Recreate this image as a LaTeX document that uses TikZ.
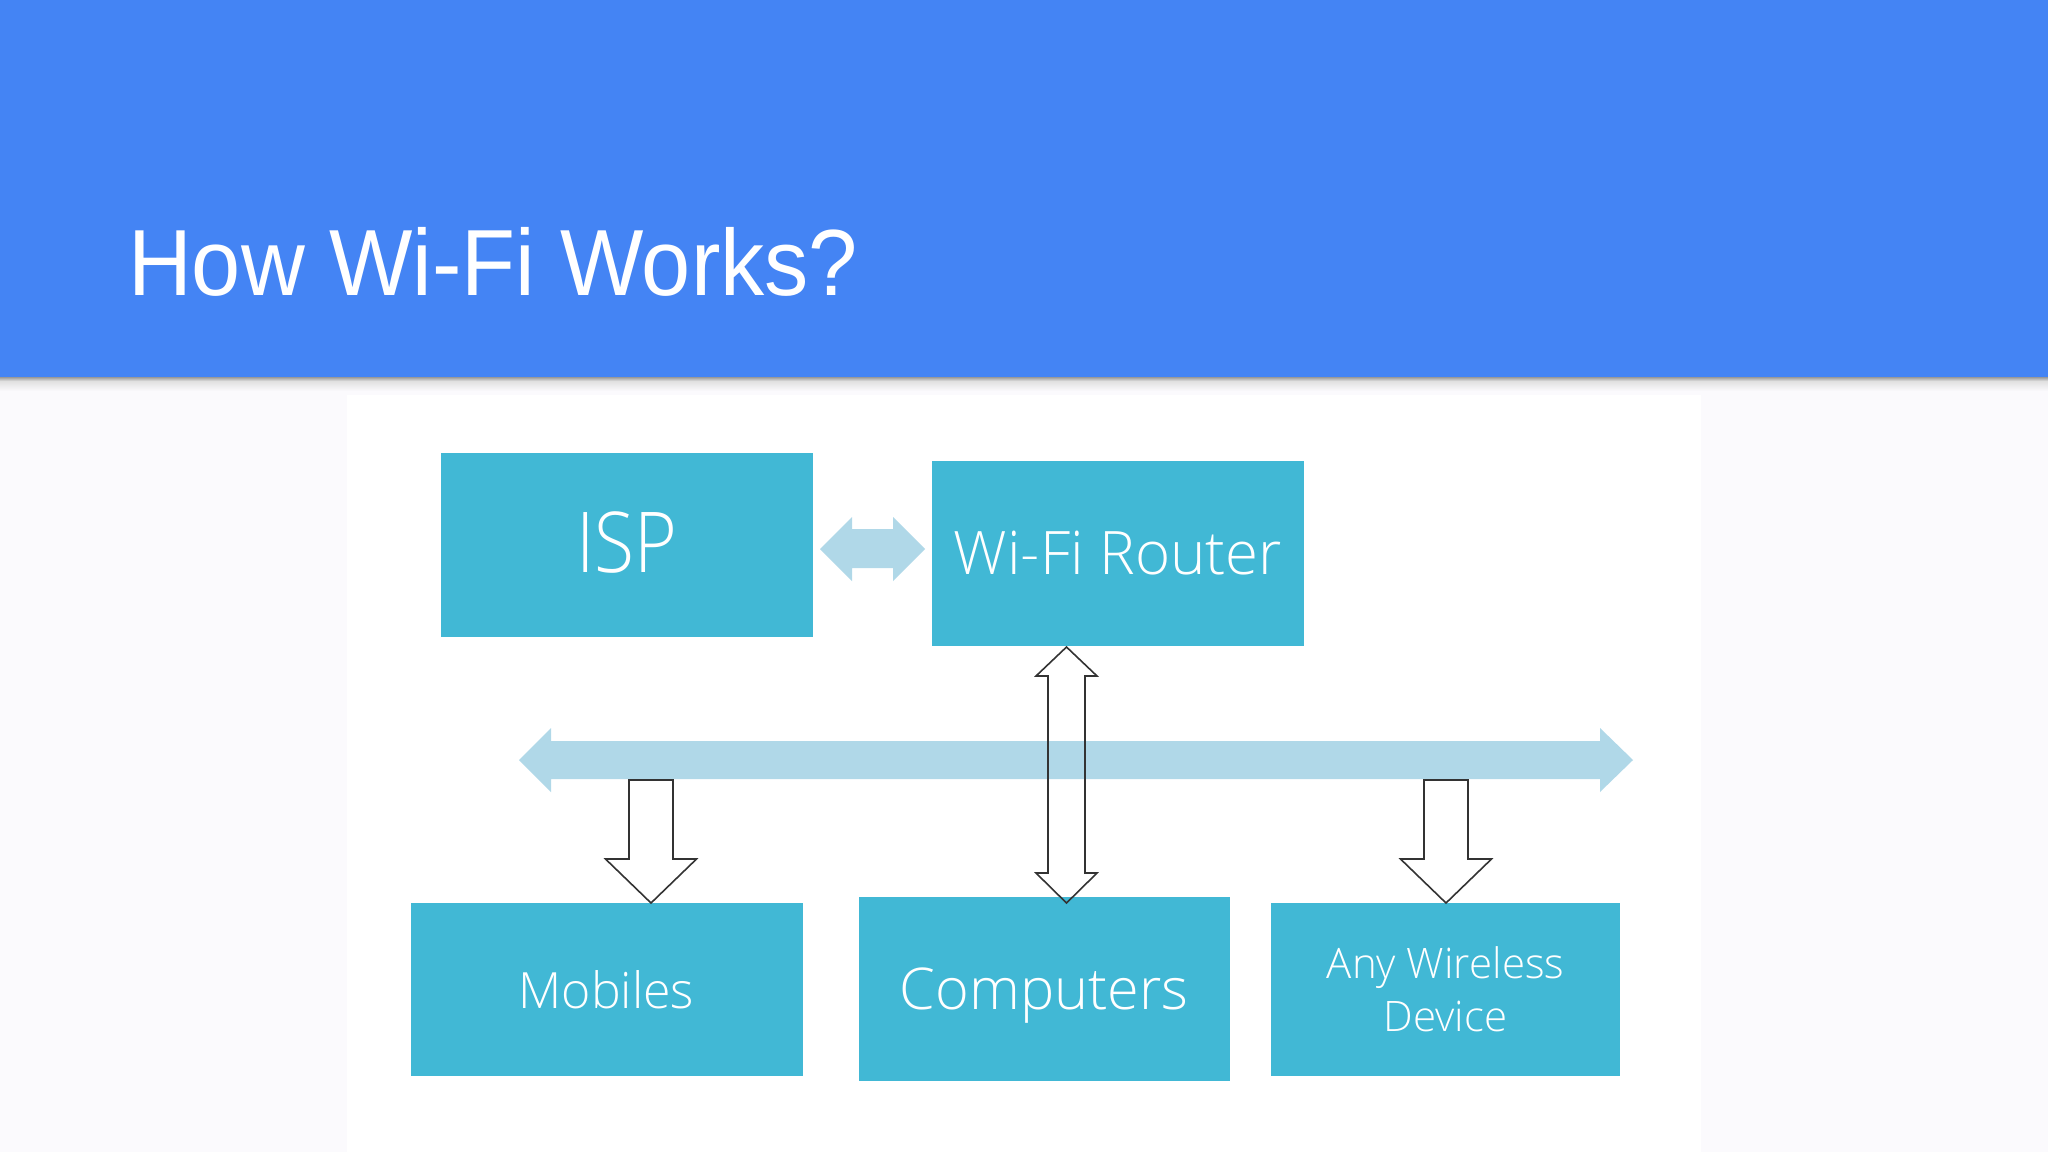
\documentclass[tikz,border=0pt]{standalone}
\usepackage{fontspec}
\setmainfont{Liberation Sans}
\newfontfamily\titlefont[FakeStretch=0.94]{Liberation Sans}
\newfontfamily\boxfont{Open Sans Light}
\newfontfamily\ispfont[FakeStretch=0.87]{Open Sans Light}
\definecolor{bannerblue}{HTML}{4484F4}
\definecolor{pagetint}{HTML}{FBFAFD}
\definecolor{boxteal}{HTML}{41B8D5}
\definecolor{palearrow}{HTML}{B0D8E8}
\definecolor{outline}{HTML}{333333}
\tikzset{
	tealbox/.style={fill=boxteal, text=white, inner sep=0pt, align=center, font=\boxfont},
	openarrow/.style={draw=outline, line width=1.6pt, line join=miter},
}
\begin{document}
\begin{tikzpicture}[x=1pt, y=-1pt]
	\useasboundingbox (0,0) rectangle (2048,1152);
	\fill [pagetint] (0,0) rectangle (2048,1152);
	\fill [white] (347,395) rectangle (1701,1152);
	\shade [top color=black!40, bottom color=black!12] (0,377) rectangle (2048,381);
	\shade [top color=black!12, bottom color=pagetint] (0,381) rectangle (2048,391);
	\fill [bannerblue] (0,0) rectangle (2048,377);
	\node (title) [anchor=base west, inner sep=0pt, text=white, font=\titlefont\fontsize{94}{94}\selectfont] at (128,295) {How Wi-Fi Works?};

	\node (isp) [tealbox, minimum width=372pt, minimum height=184pt, text depth=5pt, font=\ispfont\fontsize{84}{84}\selectfont] at (627,545) {ISP};
	\node (router) [tealbox, minimum width=372pt, minimum height=185pt, font=\boxfont\fontsize{60}{60}\selectfont] at (1118,553) {Wi-Fi Router};
	\node (mobiles) [tealbox, minimum width=392pt, minimum height=173pt, font=\boxfont\fontsize{50}{50}\selectfont] at (606.5,989.5) {Mobiles};
	\node (computers) [tealbox, minimum width=371pt, minimum height=184pt, text depth=0pt, font=\boxfont\fontsize{57.6}{60}\selectfont] at (1044,989) {Computers};
	\node (wireless) [tealbox, minimum width=349pt, minimum height=173pt, font=\boxfont\fontsize{42}{53}\selectfont] at (1445.5,989.5) {Any Wireless\\Device};

	% pale arrows
	\coordinate (A) at (820,549);
	\coordinate (B) at (925,549);
	\fill [palearrow] (A) -- ++(32,-32) -- ++(0,12) -- ++(41,0) -- ++(0,-12) -- (B) -- ++(-32,32) -- ++(0,-13) -- ++(-41,0) -- ++(0,13) -- cycle;

	\coordinate (C) at (519,760);
	\coordinate (D) at (1633,760);
	\fill [palearrow] (C) -- ++(32,-32) -- ++(0,13) -- ++(1049,0) -- ++(0,-13) -- (D) -- ++(-33,32) -- ++(0,-13) -- ++(-1049,0) -- ++(0,13) -- cycle;

	% open arrows
	\coordinate (E) at (651,903);
	\coordinate (F) at (1446,903);
	\coordinate (G) at (1066.5,647);
	\coordinate (H) at (1066.5,903);
	\draw [openarrow] (E) -- ++(45.5,-44) -- ++(-23.5,0) -- ++(0,-79) -- ++(-44,0) -- ++(0,79) -- ++(-23.5,0) -- cycle;
	\draw [openarrow] (F) -- ++(45.5,-44) -- ++(-23.5,0) -- ++(0,-79) -- ++(-44,0) -- ++(0,79) -- ++(-23.5,0) -- cycle;
	\draw [openarrow] (G) -- ++(30.5,29) -- ++(-12,0) -- ++(0,197) -- ++(12,0) -- (H) -- ++(-30.5,-30) -- ++(12,0) -- ++(0,-197) -- ++(-12,0) -- cycle;
\end{tikzpicture}
\end{document}
